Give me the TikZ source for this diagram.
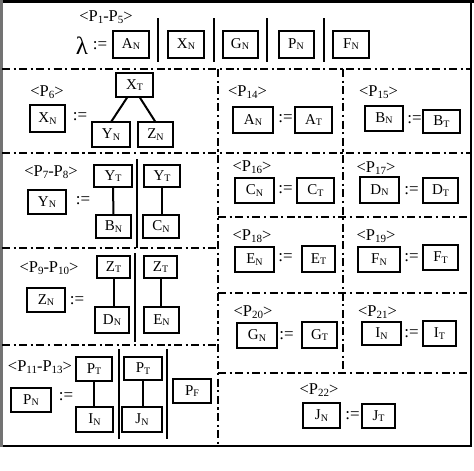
\documentclass[tikz,border=0pt]{standalone}
\usepackage{fontspec}
\setmainfont{Liberation Serif}
\newcommand\sbs[1]{\raisebox{-1.8pt}{\fontsize{10}{10}\selectfont #1}}
\newcommand\psb[1]{\raisebox{-2.5pt}{\fontsize{11}{11}\selectfont #1}}
\tikzset{
  bx/.style={draw,line width=2pt,inner sep=0pt,outer sep=0pt,font=\fontsize{15}{15}\selectfont},
  plbl/.style={inner sep=0pt,font=\fontsize{16.5}{16.5}\selectfont},
  defn/.style={inner sep=0pt,font=\fontsize{17}{17}\selectfont},
  bar/.style={line width=2pt},
  conn/.style={line width=2pt},
  dd/.style={line width=2pt,dash pattern=on 8pt off 3.5pt on 2.2pt off 3.5pt},
}
\newcommand\bx[6]{\node[bx,minimum width=#4pt,minimum height=#5pt] (#1) at (#2,#3) {#6};}
\newcommand\df[3]{\node[defn] (#1) at (#2,#3) {:=};}
\begin{document}
\begin{tikzpicture}[x=1pt,y=-1pt]
\useasboundingbox (0,0) rectangle (474,471);
% frame
\draw[line width=3pt] (0,1.5) -- (474,1.5);
\draw[line width=2.2pt] (471,0) -- (471,446);
\draw[line width=2.2pt] (2,446) -- (472,446);
\draw[line width=2.5pt,black!55] (1.5,0) -- (1.5,447);
% dash-dot separators
\draw[dd] (2,69) -- (471,69);
\draw[dd] (2,153) -- (471,153);
\draw[dd] (2,248) -- (218,248);
\draw[dd] (2,345) -- (218,345);
\draw[dd] (218,217) -- (471,217);
\draw[dd] (218,293) -- (471,293);
\draw[dd] (218,373) -- (471,373);
\draw[dd] (218,69) -- (218,446);
\draw[dd] (343,69) -- (343,373);

% P1-P5
\node[plbl] (l1) at (106,17) {<P\psb{1}-P\psb{5}>};
\node[inner sep=0pt,font=\fontsize{25}{25}\selectfont] (lam) at (82,46) {λ};
\df{d1}{100}{46}
\bx{a1}{131}{44}{36}{27}{A\sbs{N}}
\bx{a2}{186}{44}{36}{27}{X\sbs{N}}
\bx{a3}{240}{44}{35}{27}{G\sbs{N}}
\bx{a4}{296}{44}{35}{27}{P\sbs{N}}
\bx{a5}{351}{44}{36}{27}{F\sbs{N}}
\coordinate (b1t) at (158,18); \coordinate (b1b) at (158,62);
\coordinate (b2t) at (214,18); \coordinate (b2b) at (214,62);
\coordinate (b3t) at (267,18); \coordinate (b3b) at (267,62);
\coordinate (b4t) at (324,18); \coordinate (b4b) at (324,62);
\draw[bar] (b1t) -- (b1b); \draw[bar] (b2t) -- (b2b);
\draw[bar] (b3t) -- (b3b); \draw[bar] (b4t) -- (b4b);

% P6
\node[plbl] (l6) at (47,92) {<P\psb{6}>};
\bx{p6l}{47.5}{118.5}{35}{27}{X\sbs{N}}
\df{d6}{80}{117}
\bx{p6xt}{134.5}{85}{37}{24}{X\sbs{T}}
\bx{p6yn}{111}{134.5}{38}{25}{Y\sbs{N}}
\bx{p6zn}{155.5}{134.5}{35}{25}{Z\sbs{N}}
\draw[conn] ([xshift=-7pt]p6xt.south) -- (p6yn.north);
\draw[conn] ([xshift=5pt]p6xt.south) -- (p6zn.north);

% P7-P8
\node[plbl] (l7) at (51,172) {<P\psb{7}-P\psb{8}>};
\bx{p7l}{47}{202}{38}{24}{Y\sbs{N}}
\df{d7}{83}{201}
\bx{p7yt}{113}{176}{38}{22}{Y\sbs{T}}
\bx{p7bn}{113.5}{226.5}{35}{23}{B\sbs{N}}
\bx{p8yt}{162}{176}{36}{22}{Y\sbs{T}}
\bx{p8cn}{161}{226.5}{36}{23}{C\sbs{N}}
\draw[conn] (p7yt) -- (p7bn);
\draw[conn] (p8yt.south) -- (p8yt.south|-p8cn.north);
\coordinate (b7t) at (137,159); \coordinate (b7b) at (137,248);
\draw[bar] (b7t) -- (b7b);

% P9-P10
\node[plbl] (l9) at (49,268) {<P\psb{9}-P\psb{10}>};
\bx{p9l}{46}{300}{38}{24}{Z\sbs{N}}
\df{d9}{77}{301}
\bx{p9zt}{113.5}{267}{33}{22}{Z\sbs{T}}
\bx{p9dn}{112}{320}{34}{26}{D\sbs{N}}
\bx{p10zt}{160.5}{267}{33}{22}{Z\sbs{T}}
\bx{p10en}{161.5}{320}{35}{26}{E\sbs{N}}
\draw[conn] (p9zt.south) -- (p9zt.south|-p9dn.north);
\draw[conn] (p10zt.south) -- (p10zt.south|-p10en.north);
\coordinate (b9t) at (135,253); \coordinate (b9b) at (135,342);
\draw[bar] (b9t) -- (b9b);

% P11-P13
\node[plbl] (l11) at (40,367) {<P\psb{11}-P\psb{13}>};
\bx{p11l}{31}{400}{40}{24}{P\sbs{N}}
\df{d11}{66}{397}
\bx{p11pt}{94}{369}{36}{24}{P\sbs{T}}
\bx{p11in}{94.5}{419.5}{37}{25}{I\sbs{N}}
\bx{p12pt}{143}{368.5}{38}{23}{P\sbs{T}}
\bx{p12jn}{142}{419.5}{40}{25}{J\sbs{N}}
\bx{p13pf}{192}{391}{38}{24}{P\sbs{F}}
\draw[conn] (p11pt.south) -- (p11pt.south|-p11in.north);
\draw[conn] (p12pt.south) -- (p12pt.south|-p12jn.north);
\coordinate (b11t) at (119,349); \coordinate (b11b) at (119,439);
\coordinate (b12t) at (167,349); \coordinate (b12b) at (167,439);
\draw[bar] (b11t) -- (b11b); \draw[bar] (b12t) -- (b12b);

% right column
\node[plbl] (l14) at (247.5,92) {<P\psb{14}>};
\bx{p14n}{253}{120}{40}{26}{A\sbs{N}}
\df{d14}{285.5}{119}
\bx{p14t}{313.5}{120}{37}{26}{A\sbs{T}}

\node[plbl] (l15) at (378.5,92) {<P\psb{15}>};
\bx{p15n}{384}{118}{38}{25}{B\sbs{N}}
\df{d15}{414.5}{120}
\bx{p15t}{441.5}{121.5}{37}{23}{B\sbs{T}}

\node[plbl] (l16) at (252,167) {<P\psb{16}>};
\bx{p16n}{254.5}{190.5}{39}{25}{C\sbs{N}}
\df{d16}{285.5}{190}
\bx{p16t}{315.5}{190.5}{37}{25}{C\sbs{T}}

\node[plbl] (l17) at (376,168) {<P\psb{17}>};
\bx{p17n}{379.5}{190}{39}{26}{D\sbs{N}}
\df{d17}{411.5}{191}
\bx{p17t}{440.5}{190.5}{35}{25}{D\sbs{T}}

\node[plbl] (l18) at (252,236) {<P\psb{18}>};
\bx{p18n}{254.5}{259.5}{39}{25}{E\sbs{N}}
\df{d18}{285.5}{258}
\bx{p18t}{318.5}{259}{33}{26}{E\sbs{T}}

\node[plbl] (l19) at (376,236) {<P\psb{19}>};
\bx{p19n}{379}{259.5}{42}{25}{F\sbs{N}}
\df{d19}{411.5}{258}
\bx{p19t}{440.5}{257.5}{35}{25}{F\sbs{T}}

\node[plbl] (l20) at (253,312) {<P\psb{20}>};
\bx{p20n}{257}{335.5}{40}{25}{G\sbs{N}}
\df{d20}{286.5}{336}
\bx{p20t}{319.5}{335}{35}{26}{G\sbs{T}}

\node[plbl] (l21) at (377.5,312) {<P\psb{21}>};
\bx{p21n}{381.5}{333.5}{39}{23}{I\sbs{N}}
\df{d21}{411.5}{334}
\bx{p21t}{439.5}{333.5}{33}{25}{I\sbs{T}}

\node[plbl] (l22) at (319,390) {<P\psb{22}>};
\bx{p22n}{321.5}{415.5}{37}{25}{J\sbs{N}}
\df{d22}{352.5}{416}
\bx{p22t}{378.5}{416}{33}{24}{J\sbs{T}}
\end{tikzpicture}
\end{document}
